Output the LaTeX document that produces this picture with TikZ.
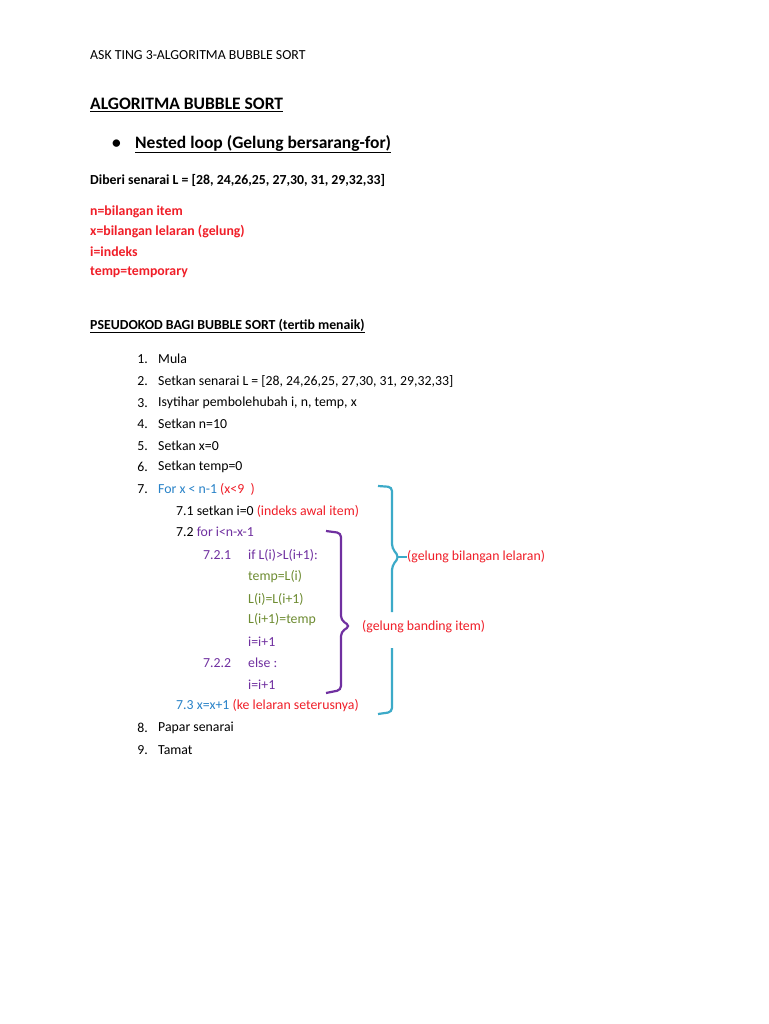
\documentclass[tikz,border=0pt]{standalone}
\usepackage{fontspec}
\setmainfont{Carlito}
\definecolor{rd}{RGB}{240,30,40}
\definecolor{bl}{RGB}{40,130,200}
\definecolor{pu}{RGB}{112,48,160}
\definecolor{gr}{RGB}{110,140,50}
\definecolor{cy}{RGB}{60,170,200}
\begin{document}
\begin{tikzpicture}[x=1pt,y=-1pt,
  t/.style={anchor=west,inner sep=0pt,font=\fontsize{13.8}{16}\selectfont},
  tb/.style={t,font=\fontsize{13.8}{16}\selectfont\bfseries},
  hd/.style={anchor=west,inner sep=0pt,font=\fontsize{17.5}{20}\selectfont\bfseries}]
\useasboundingbox (0,0) rectangle (768,1024);
\fill[white] (0,0) rectangle (768,1024);
\node[t] (h) at (90,55) {ASK TING 3-ALGORITMA BUBBLE SORT};
\node[hd] (a) at (90,105) {\underline{ALGORITMA BUBBLE SORT}};
\node[hd] (bul) at (112,144) {\textbullet};
\node[hd] (n) at (135,144) {\underline{Nested loop (Gelung bersarang-for)}};
\node[tb] (d) at (90,180) {Diberi senarai L = [28, 24,26,25, 27,30, 31, 29,32,33]};
\node[tb,text=rd] (v1) at (90,212) {n=bilangan item};
\node[tb,text=rd] (v2) at (90,232) {x=bilangan lelaran (gelung)};
\node[tb,text=rd] (v3) at (90,252) {i=indeks};
\node[tb,text=rd] (v4) at (90,272) {temp=temporary};
\node[tb] (p) at (90,326) {\underline{PSEUDOKOD BAGI BUBBLE SORT (tertib menaik)}};
\foreach \k/\y/\s in {1/359/Mula,2/381/{Setkan senarai L = [28, 24,26,25, 27,30, 31, 29,32,33]},3/403/{Isytihar pembolehubah i, n, temp, x},4/424/{Setkan n=10},5/446/{Setkan x=0},6/467/{Setkan temp=0},8/728/{Papar senarai},9/750/Tamat}{
  \node[t,anchor=east] (k\k) at (148,\y) {\k.};
  \node[t] (s\k) at (158,\y) {\s};}
\node[t,anchor=east] (k7) at (148,489) {7.};
\node[t] (s7) at (158,489) {\textcolor{bl}{For x < n-1} \textcolor{rd}{(x<9\ \ )}};
\node[t] (s71) at (176,511) {7.1 setkan i=0 \textcolor{rd}{(indeks awal item)}};
\node[t] (s72) at (176,532) {7.2 \textcolor{pu}{for i<n-x-1}};
\node[t,text=pu] (s721) at (203,555) {7.2.1};
\node[t,text=pu] (c1) at (248,555) {if L(i)>L(i+1):};
\node[t,text=gr] (c2) at (248,577) {temp=L(i)};
\node[t,text=gr] (c3) at (248,599) {L(i)=L(i+1)};
\node[t,text=gr] (c4) at (248,620) {L(i+1)=temp};
\node[t,text=pu] (c5) at (248,642) {i=i+1};
\node[t,text=pu] (s722) at (203,663) {7.2.2};
\node[t,text=pu] (c6) at (248,663) {else :};
\node[t,text=pu] (c7) at (248,685) {i=i+1};
\node[t] (s73) at (176,706) {\textcolor{bl}{7.3 x=x+1} \textcolor{rd}{(ke lelaran seterusnya)}};
\node[t,text=rd] (lb) at (407,557) {(gelung bilangan lelaran)};
\node[t,text=rd] (lp) at (362,627) {(gelung banding item)};
\draw[cy,line width=2.2pt,rounded corners=4pt] (378,486) -- (392,487) -- (392,548) -- (399,557) -- (392,566) -- (392,612);
\draw[cy,line width=2.2pt,rounded corners=4pt] (392,648) -- (392,712) -- (378,714);
\draw[cy,line width=2.2pt] (397,557) -- (lb.west);
\draw[pu,line width=2.2pt,rounded corners=4pt] (326,531) -- (341,533) -- (341,620) -- (350,626) -- (341,632) -- (341,690) -- (326,693);
\end{tikzpicture}
\end{document}
